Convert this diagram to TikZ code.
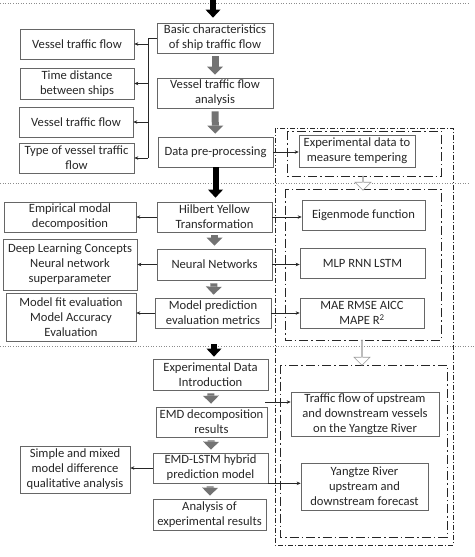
\documentclass[tikz,border=0pt]{standalone}
\usepackage{fontspec}
\setmainfont{Carlito}
\usetikzlibrary{arrows.meta, shapes.arrows, positioning, calc}

\begin{document}
\begin{tikzpicture}[
			x=1pt, y=-1pt,
			every node/.style={font=\fontsize{12.6}{15}\selectfont, text=black!85},
			box/.style={draw=black!60, line width=0.7pt, align=center, inner sep=1pt},
			dims/.style 2 args={minimum width=#1pt, minimum height=#2pt},
			link/.style={draw=black!85, line width=0.6pt},
			tip/.style={link, -{Stealth[length=4pt,width=3.5pt]}},
			grayarr/.style={draw=black!55, line width=7pt, -{Triangle[length=8pt,width=16pt,line width=0pt]}, shorten <=3pt, shorten >=3pt},
			blackarr/.style={draw=black, line width=6pt, -{Triangle[length=8pt,width=15pt,line width=0pt]}},
			hollow/.style={single arrow, draw=black!40, line width=0.6pt, fill=white, shape border rotate=270, minimum width=16pt, single arrow head extend=4pt, inner sep=0pt},
			sepline/.style={draw=black!45, dotted, line width=0.6pt},
			outerbox/.style={draw=black!85, line width=0.6pt, dash pattern=on 5pt off 2pt on 1pt off 2pt},
			innerbox/.style={draw=black!85, line width=0.9pt, dash pattern=on 9pt off 3pt on 1.5pt off 3pt}
		]
		\useasboundingbox (0,0) rectangle (474,557);

		\draw[sepline] (0,3) -- (470,3);
		\draw[sepline] (0,183) -- (470,183);
		\draw[sepline] (0,346) -- (474,346);

		\draw[outerbox] (275,128) rectangle (453,545);
		\draw[innerbox] (287,131) rectangle (441,176);
		\draw[innerbox] (285,189) rectangle (441,340);
		\draw[innerbox] (280,365) rectangle (447,537);

		\node[box, dims={116}{30}] (basic) at (215,38) {Basic characteristics\\of ship traffic flow};
		\node[box, dims={116}{30}] (analysis) at (215,93) {Vessel traffic flow\\analysis};
		\node[box, dims={115}{30}] (prep) at (215.5,152) {Data pre-processing};

		\node[box, dims={114}{30}] (vtfa) at (77,44) {Vessel traffic flow};
		\node[box, dims={114}{31}] (gap) at (77,83.5) {Time distance\\between ships};
		\node[box, dims={114}{30}] (vtfb) at (76,122) {Vessel traffic flow};
		\node[box, dims={115}{30}] (vtype) at (76.5,158) {Type of vessel traffic\\flow};

		\node[box, dims={116}{32}] (tamper) at (357,151) {Experimental data to\\measure tempering};

		\node[box, dims={115}{30}] (hilbert) at (214.5,217) {Hilbert Yellow\\Transformation};
		\node[box, dims={115}{31}] (neural) at (214.5,264.5) {Neural Networks};
		\node[box, dims={116}{30}] (metric) at (213,313) {Model prediction\\evaluation metrics};

		\node[box, dims={132}{30}] (emd) at (70,217) {Empirical modal\\decomposition};
		\node[box, dims={134}{51}] (deep) at (70,264.5) {Deep Learning Concepts\\Neural network\\superparameter};
		\node[box, dims={130}{48}] (fit) at (71,317) {Model fit evaluation\\Model Accuracy\\Evaluation};

		\node[box, dims={123}{30}] (eigen) at (363.5,215) {Eigenmode function};
		\node[box, dims={125}{30}] (mlp) at (362.5,263) {MLP RNN LSTM};
		\node[box, dims={124}{30}] (mae) at (362,313) {MAE RMSE AICC\\MAPE R\textsuperscript{2}};

		\node[box, dims={115}{31}] (intro) at (210.5,374.5) {Experimental Data\\Introduction};
		\node[box, dims={111}{30}] (emdres) at (211.5,422) {EMD decomposition\\results};
		\node[box, dims={115}{30}] (hybrid) at (210.5,468) {EMD-LSTM hybrid\\prediction model};
		\node[box, dims={113}{31}] (result) at (209.5,514.5) {Analysis of\\experimental results};

		\node[box, dims={110}{47}] (simple) at (75,469.5) {Simple and mixed\\model difference\\qualitative analysis};

		\node[box, dims={148}{44}] (yflow) at (365,414) {Traffic flow of upstream\\and downstream vessels\\on the Yangtze River};
		\node[box, dims={127}{47}] (yfcst) at (364.5,486.5) {Yangtze River\\upstream and\\downstream forecast};

		\node[hollow, minimum height=14pt] (down1) at (363,183) {};
		\node[hollow, minimum height=25pt] (down2) at (362,352.5) {};

		\coordinate (top) at (213,0);
		\coordinate (brk) at (148,38);
		\coordinate (sec) at (214,344);
		\coordinate (tf) at (265,402);

		\draw[blackarr, shorten >=5pt] (top) -- (top |- basic.north);
		\draw[grayarr] (basic) -- (analysis);
		\draw[grayarr] (analysis) -- (prep);
		\draw[blackarr, shorten >=4pt] (prep.south) -- (prep.south |- hilbert.north);
		\draw[grayarr] (hilbert) -- (neural);
		\draw[grayarr] (neural) -- (metric);
		\draw[blackarr, shorten >=2pt] (sec) -- (sec |- intro.north);
		\draw[grayarr] (intro) -- (emdres);
		\draw[grayarr] (emdres) -- (hybrid);
		\draw[grayarr] (hybrid) -- (result);

		\draw[link] (basic.west) -- (brk) -- (brk |- vtype.east);
		\draw[tip] (brk |- vtfa.east) -- (vtfa.east);
		\draw[tip] (brk |- gap.east) -- (gap.east);
		\draw[tip] (brk |- vtfb.east) -- (vtfb.east);
		\draw[tip] (brk |- vtype.east) -- (vtype.east);

		\draw[tip] (prep.east) -- (prep.east -| tamper.west);
		\draw[tip] (hilbert.west) -- (emd.east);
		\draw[tip] (neural.west) -- (deep.east);
		\draw[tip] (metric.west) -- (metric.west -| fit.east);
		\draw[tip] (hilbert.east) -- (hilbert.east -| eigen.west);
		\draw[tip] (neural.east) -- (neural.east -| mlp.west);
		\draw[tip] (metric.east) -- (metric.east -| mae.west);

		\draw[tip] (tf) -- (tf -| yflow.west);
		\draw[tip] (hybrid.west) -- (hybrid.west -| simple.east);
		\draw[tip] (hybrid.south east) -- (hybrid.south east -| yfcst.west);
	\end{tikzpicture}
\end{document}
